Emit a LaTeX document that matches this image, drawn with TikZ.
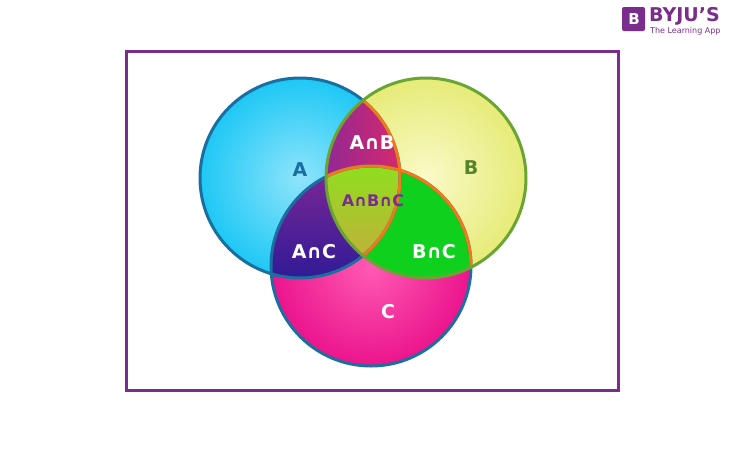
\documentclass[tikz,border=0pt]{standalone}
\usepackage{fontspec}
\setmainfont{DejaVu Sans}
\begin{document}
\begin{tikzpicture}[x=1pt,y=-1pt,
  lab/.style={font=\bfseries\fontsize{19}{19}\selectfont},
  ring/.style={line width=3pt}]
\definecolor{bord}{HTML}{7B2D8E}
\definecolor{ablue}{HTML}{1A6FA0}
\definecolor{bgreen}{HTML}{6AA534}
\definecolor{orng}{HTML}{F07A1A}
\definecolor{ain}{HTML}{8FE4FB}
\definecolor{aout}{HTML}{1EC8F5}
\definecolor{bin}{HTML}{FAFAC8}
\definecolor{bout}{HTML}{E6EB78}
\definecolor{cin}{HTML}{FF5AB4}
\definecolor{cout}{HTML}{EB148C}
\definecolor{abl}{HTML}{8C2896}
\definecolor{abr}{HTML}{D7286E}
\definecolor{act}{HTML}{822896}
\definecolor{acb}{HTML}{281996}
\definecolor{bcg}{HTML}{10D01E}
\definecolor{abct}{HTML}{8CE11E}
\definecolor{abcb}{HTML}{C8AA3C}
\useasboundingbox (0,0) rectangle (750,456);
\coordinate (ca) at (300,178);
\coordinate (cb) at (426,178);
\coordinate (cc) at (371,266);
\def\r{100}
\draw[bord,line width=3pt] (126,51) rectangle (618,390);
\shade[inner color=ain, outer color=aout] (ca) circle (\r);
\shade[inner color=bin, outer color=bout] (cb) circle (\r);
\shade[inner color=cin, outer color=cout] (cc) circle (\r);
\begin{scope}
\clip (ca) circle (\r); \clip (cb) circle (\r);
\shade[left color=abl, right color=abr] (320,70) rectangle (400,280);
\end{scope}
\begin{scope}
\clip (ca) circle (\r); \clip (cc) circle (\r);
\shade[top color=act, bottom color=acb] (260,160) rectangle (400,290);
\end{scope}
\begin{scope}
\clip (cb) circle (\r); \clip (cc) circle (\r);
\fill[bcg] (330,160) rectangle (480,290);
\end{scope}
\begin{scope}
\clip (ca) circle (\r); \clip (cb) circle (\r); \clip (cc) circle (\r);
\shade[top color=abct, bottom color=abcb] (320,160) rectangle (420,270);
\end{scope}
\draw[ring,ablue] (ca) circle (\r);
\draw[ring,ablue] (cc) circle (\r);
\begin{scope}
\clip (cb) circle (\r);
\draw[ring,orng] (ca) circle (\r);
\draw[ring,orng] (cc) circle (\r);
\end{scope}
\draw[ring,bgreen] (cb) circle (\r);
\node[lab,ablue] (la) at (300,170) {A};
\node[lab,bgreen!80!black] (lb) at (471,168) {B};
\node[lab,white] (lc) at (388,312) {C};
\node[lab,white] (lab) at (372,143) {A∩B};
\node[lab,bord,font=\bfseries\fontsize{16}{16}\selectfont] (labc) at (373,201) {A∩B∩C};
\node[lab,white] (lac) at (314,252) {A∩C};
\node[lab,white] (lbc) at (434,252) {B∩C};
\fill[bord,rounded corners=2pt] (622,7) rectangle (645,31);
\node[white,font=\bfseries\fontsize{15}{15}\selectfont] (lg) at (634,19) {B};
\node[bord,font=\bfseries\fontsize{19}{19}\selectfont,anchor=west,inner sep=1pt] (by) at (648,16) {BYJU'S};
\node[bord,font=\fontsize{8}{8}\selectfont,anchor=west,inner sep=1pt] (tl) at (649,31) {The Learning App};
\end{tikzpicture}
\end{document}
